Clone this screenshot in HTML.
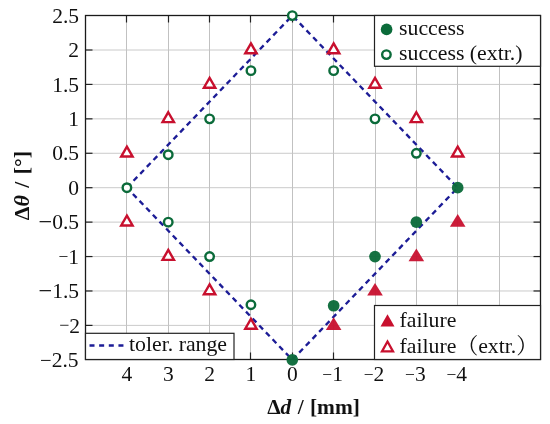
<!DOCTYPE html><html><head><meta charset="utf-8"><title>chart</title><style>html,body{margin:0;padding:0;background:#fff}svg{display:block}text{font-family:"Liberation Serif","Noto Serif CJK SC",serif;fill:#111}</style></head><body>
<svg width="550" height="424" viewBox="0 0 550 424">
<rect width="550" height="424" fill="#fff"/>
<line x1="499.5" y1="15.5" x2="499.5" y2="359.5" stroke="#bababa" stroke-width="0.9"/>
<line x1="457.5" y1="15.5" x2="457.5" y2="359.5" stroke="#bababa" stroke-width="0.9"/>
<line x1="416.5" y1="15.5" x2="416.5" y2="359.5" stroke="#bababa" stroke-width="0.9"/>
<line x1="375.5" y1="15.5" x2="375.5" y2="359.5" stroke="#bababa" stroke-width="0.9"/>
<line x1="333.5" y1="15.5" x2="333.5" y2="359.5" stroke="#bababa" stroke-width="0.9"/>
<line x1="292.5" y1="15.5" x2="292.5" y2="359.5" stroke="#bababa" stroke-width="0.9"/>
<line x1="250.5" y1="15.5" x2="250.5" y2="359.5" stroke="#bababa" stroke-width="0.9"/>
<line x1="209.5" y1="15.5" x2="209.5" y2="359.5" stroke="#bababa" stroke-width="0.9"/>
<line x1="168.5" y1="15.5" x2="168.5" y2="359.5" stroke="#bababa" stroke-width="0.9"/>
<line x1="126.5" y1="15.5" x2="126.5" y2="359.5" stroke="#bababa" stroke-width="0.9"/>
<line x1="85.5" y1="325.4" x2="540.5" y2="325.4" stroke="#c4c4c4" stroke-width="0.9"/>
<line x1="85.5" y1="290.97" x2="540.5" y2="290.97" stroke="#c4c4c4" stroke-width="0.9"/>
<line x1="85.5" y1="256.55" x2="540.5" y2="256.55" stroke="#c4c4c4" stroke-width="0.9"/>
<line x1="85.5" y1="222.12" x2="540.5" y2="222.12" stroke="#c4c4c4" stroke-width="0.9"/>
<line x1="85.5" y1="187.7" x2="540.5" y2="187.7" stroke="#c4c4c4" stroke-width="0.9"/>
<line x1="85.5" y1="153.27" x2="540.5" y2="153.27" stroke="#c4c4c4" stroke-width="0.9"/>
<line x1="85.5" y1="118.85" x2="540.5" y2="118.85" stroke="#c4c4c4" stroke-width="0.9"/>
<line x1="85.5" y1="84.42" x2="540.5" y2="84.42" stroke="#c4c4c4" stroke-width="0.9"/>
<line x1="85.5" y1="50.0" x2="540.5" y2="50.0" stroke="#c4c4c4" stroke-width="0.9"/>
<line x1="499.5" y1="15.5" x2="499.5" y2="22.5" stroke="#222" stroke-width="1.2"/>
<line x1="499.5" y1="359.5" x2="499.5" y2="352.5" stroke="#222" stroke-width="1.2"/>
<line x1="457.5" y1="15.5" x2="457.5" y2="22.5" stroke="#222" stroke-width="1.2"/>
<line x1="457.5" y1="359.5" x2="457.5" y2="352.5" stroke="#222" stroke-width="1.2"/>
<line x1="416.5" y1="15.5" x2="416.5" y2="22.5" stroke="#222" stroke-width="1.2"/>
<line x1="416.5" y1="359.5" x2="416.5" y2="352.5" stroke="#222" stroke-width="1.2"/>
<line x1="375.5" y1="15.5" x2="375.5" y2="22.5" stroke="#222" stroke-width="1.2"/>
<line x1="375.5" y1="359.5" x2="375.5" y2="352.5" stroke="#222" stroke-width="1.2"/>
<line x1="333.5" y1="15.5" x2="333.5" y2="22.5" stroke="#222" stroke-width="1.2"/>
<line x1="333.5" y1="359.5" x2="333.5" y2="352.5" stroke="#222" stroke-width="1.2"/>
<line x1="292.5" y1="15.5" x2="292.5" y2="22.5" stroke="#222" stroke-width="1.2"/>
<line x1="292.5" y1="359.5" x2="292.5" y2="352.5" stroke="#222" stroke-width="1.2"/>
<line x1="250.5" y1="15.5" x2="250.5" y2="22.5" stroke="#222" stroke-width="1.2"/>
<line x1="250.5" y1="359.5" x2="250.5" y2="352.5" stroke="#222" stroke-width="1.2"/>
<line x1="209.5" y1="15.5" x2="209.5" y2="22.5" stroke="#222" stroke-width="1.2"/>
<line x1="209.5" y1="359.5" x2="209.5" y2="352.5" stroke="#222" stroke-width="1.2"/>
<line x1="168.5" y1="15.5" x2="168.5" y2="22.5" stroke="#222" stroke-width="1.2"/>
<line x1="168.5" y1="359.5" x2="168.5" y2="352.5" stroke="#222" stroke-width="1.2"/>
<line x1="126.5" y1="15.5" x2="126.5" y2="22.5" stroke="#222" stroke-width="1.2"/>
<line x1="126.5" y1="359.5" x2="126.5" y2="352.5" stroke="#222" stroke-width="1.2"/>
<line x1="85.5" y1="325.4" x2="92.5" y2="325.4" stroke="#222" stroke-width="1.2"/>
<line x1="540.5" y1="325.4" x2="533.5" y2="325.4" stroke="#222" stroke-width="1.2"/>
<line x1="85.5" y1="290.97" x2="92.5" y2="290.97" stroke="#222" stroke-width="1.2"/>
<line x1="540.5" y1="290.97" x2="533.5" y2="290.97" stroke="#222" stroke-width="1.2"/>
<line x1="85.5" y1="256.55" x2="92.5" y2="256.55" stroke="#222" stroke-width="1.2"/>
<line x1="540.5" y1="256.55" x2="533.5" y2="256.55" stroke="#222" stroke-width="1.2"/>
<line x1="85.5" y1="222.12" x2="92.5" y2="222.12" stroke="#222" stroke-width="1.2"/>
<line x1="540.5" y1="222.12" x2="533.5" y2="222.12" stroke="#222" stroke-width="1.2"/>
<line x1="85.5" y1="187.7" x2="92.5" y2="187.7" stroke="#222" stroke-width="1.2"/>
<line x1="540.5" y1="187.7" x2="533.5" y2="187.7" stroke="#222" stroke-width="1.2"/>
<line x1="85.5" y1="153.27" x2="92.5" y2="153.27" stroke="#222" stroke-width="1.2"/>
<line x1="540.5" y1="153.27" x2="533.5" y2="153.27" stroke="#222" stroke-width="1.2"/>
<line x1="85.5" y1="118.85" x2="92.5" y2="118.85" stroke="#222" stroke-width="1.2"/>
<line x1="540.5" y1="118.85" x2="533.5" y2="118.85" stroke="#222" stroke-width="1.2"/>
<line x1="85.5" y1="84.42" x2="92.5" y2="84.42" stroke="#222" stroke-width="1.2"/>
<line x1="540.5" y1="84.42" x2="533.5" y2="84.42" stroke="#222" stroke-width="1.2"/>
<line x1="85.5" y1="50.0" x2="92.5" y2="50.0" stroke="#222" stroke-width="1.2"/>
<line x1="540.5" y1="50.0" x2="533.5" y2="50.0" stroke="#222" stroke-width="1.2"/>
<rect x="85.5" y="15.5" width="455.0" height="344.0" fill="none" stroke="#1a1a1a" stroke-width="1.3"/>
<polygon points="126.9,187.7 292.3,15.574999999999989 457.70000000000005,187.7 292.3,359.825" fill="none" stroke="#1c1c96" stroke-width="2.35" stroke-dasharray="5.4 4.2"/>
<polygon points="126.9,146.67 132.6,156.57 121.2,156.57" fill="#fff" stroke="#c8102e" stroke-width="2.4" stroke-linejoin="miter"/>
<polygon points="168.25,112.25 173.95,122.15 162.55,122.15" fill="#fff" stroke="#c8102e" stroke-width="2.4" stroke-linejoin="miter"/>
<polygon points="209.60000000000002,77.83 215.3,87.72 203.90000000000003,87.72" fill="#fff" stroke="#c8102e" stroke-width="2.4" stroke-linejoin="miter"/>
<polygon points="250.95000000000002,43.40 256.65000000000003,53.30 245.25000000000003,53.30" fill="#fff" stroke="#c8102e" stroke-width="2.4" stroke-linejoin="miter"/>
<polygon points="333.65000000000003,43.40 339.35,53.30 327.95000000000005,53.30" fill="#fff" stroke="#c8102e" stroke-width="2.4" stroke-linejoin="miter"/>
<polygon points="375.0,77.83 380.7,87.72 369.3,87.72" fill="#fff" stroke="#c8102e" stroke-width="2.4" stroke-linejoin="miter"/>
<polygon points="416.35,112.25 422.05,122.15 410.65000000000003,122.15" fill="#fff" stroke="#c8102e" stroke-width="2.4" stroke-linejoin="miter"/>
<polygon points="457.70000000000005,146.67 463.40000000000003,156.57 452.00000000000006,156.57" fill="#fff" stroke="#c8102e" stroke-width="2.4" stroke-linejoin="miter"/>
<polygon points="126.9,215.53 132.6,225.43 121.2,225.43" fill="#fff" stroke="#c8102e" stroke-width="2.4" stroke-linejoin="miter"/>
<polygon points="168.25,249.95 173.95,259.85 162.55,259.85" fill="#fff" stroke="#c8102e" stroke-width="2.4" stroke-linejoin="miter"/>
<polygon points="209.60000000000002,284.37 215.3,294.27 203.90000000000003,294.27" fill="#fff" stroke="#c8102e" stroke-width="2.4" stroke-linejoin="miter"/>
<polygon points="250.95000000000002,318.80 256.65000000000003,328.70 245.25000000000003,328.70" fill="#fff" stroke="#c8102e" stroke-width="2.4" stroke-linejoin="miter"/>
<polygon points="333.65000000000003,317.33 341.45000000000005,330.03 325.85,330.03" fill="#c8102e" fill-opacity="0.95"/>
<polygon points="375.0,282.91 382.8,295.61 367.2,295.61" fill="#c8102e" fill-opacity="0.95"/>
<polygon points="416.35,248.48 424.15000000000003,261.18 408.55,261.18" fill="#c8102e" fill-opacity="0.95"/>
<polygon points="457.70000000000005,214.06 465.50000000000006,226.76 449.90000000000003,226.76" fill="#c8102e" fill-opacity="0.95"/>
<circle cx="126.9" cy="187.7" r="4.25" fill="#fff" stroke="#0b6b3a" stroke-width="2.4"/>
<circle cx="168.25" cy="154.67499999999998" r="4.25" fill="#fff" stroke="#0b6b3a" stroke-width="2.4"/>
<circle cx="209.60000000000002" cy="118.85" r="4.25" fill="#fff" stroke="#0b6b3a" stroke-width="2.4"/>
<circle cx="250.95000000000002" cy="70.655" r="4.25" fill="#fff" stroke="#0b6b3a" stroke-width="2.4"/>
<circle cx="292.3" cy="15.574999999999989" r="4.25" fill="#fff" stroke="#0b6b3a" stroke-width="2.4"/>
<circle cx="333.65000000000003" cy="70.655" r="4.25" fill="#fff" stroke="#0b6b3a" stroke-width="2.4"/>
<circle cx="375.0" cy="118.85" r="4.25" fill="#fff" stroke="#0b6b3a" stroke-width="2.4"/>
<circle cx="416.35" cy="153.27499999999998" r="4.25" fill="#fff" stroke="#0b6b3a" stroke-width="2.4"/>
<circle cx="168.25" cy="222.125" r="4.25" fill="#fff" stroke="#0b6b3a" stroke-width="2.4"/>
<circle cx="209.60000000000002" cy="256.54999999999995" r="4.25" fill="#fff" stroke="#0b6b3a" stroke-width="2.4"/>
<circle cx="250.95000000000002" cy="304.745" r="4.25" fill="#fff" stroke="#0b6b3a" stroke-width="2.4"/>
<circle cx="457.70000000000005" cy="187.7" r="5.85" fill="#0b6b3a" fill-opacity="0.96"/>
<circle cx="416.35" cy="222.125" r="5.85" fill="#0b6b3a" fill-opacity="0.96"/>
<circle cx="375.0" cy="256.54999999999995" r="5.85" fill="#0b6b3a" fill-opacity="0.96"/>
<circle cx="333.65000000000003" cy="305.745" r="5.85" fill="#0b6b3a" fill-opacity="0.96"/>
<circle cx="292.3" cy="359.825" r="5.85" fill="#0b6b3a" fill-opacity="0.96"/>
<text x="78.5" y="367.025" font-size="21.5" text-anchor="end"><tspan font-size="20.5" dy="-0.36">−</tspan><tspan dy="0.36">2.5</tspan></text>
<text x="80.1" y="332.59999999999997" font-size="21.5" text-anchor="end"><tspan font-size="18" dy="-1.26">−</tspan><tspan dy="1.26">2</tspan></text>
<text x="79.1" y="298.17499999999995" font-size="21.5" text-anchor="end"><tspan font-size="24.5" dy="1.08">−</tspan><tspan dy="-1.08">1.5</tspan></text>
<text x="79.1" y="263.74999999999994" font-size="21.5" text-anchor="end"><tspan font-size="17.5" dy="-1.44">−</tspan><tspan dy="1.44">1</tspan></text>
<text x="79.1" y="229.325" font-size="21.5" text-anchor="end"><tspan font-size="24.5" dy="1.08">−</tspan><tspan dy="-1.08">0.5</tspan></text>
<text x="79.1" y="194.89999999999998" font-size="21.5" text-anchor="end">0</text>
<text x="79.1" y="160.47499999999997" font-size="21.5" text-anchor="end">0.5</text>
<text x="79.1" y="126.05" font-size="21.5" text-anchor="end">1</text>
<text x="79.1" y="91.625" font-size="21.5" text-anchor="end">1.5</text>
<text x="79.1" y="57.2" font-size="21.5" text-anchor="end">2</text>
<text x="79.1" y="22.774999999999988" font-size="21.5" text-anchor="end">2.5</text>
<text x="456.70000000000005" y="381.4" font-size="21.5" text-anchor="middle"><tspan font-size="17.5" dy="-1.44">−</tspan><tspan dy="1.44">4</tspan></text>
<text x="415.35" y="381.4" font-size="21.5" text-anchor="middle"><tspan font-size="17.5" dy="-1.44">−</tspan><tspan dy="1.44">3</tspan></text>
<text x="374.0" y="381.4" font-size="21.5" text-anchor="middle"><tspan font-size="17.5" dy="-1.44">−</tspan><tspan dy="1.44">2</tspan></text>
<text x="332.65000000000003" y="381.4" font-size="21.5" text-anchor="middle"><tspan font-size="17.5" dy="-1.44">−</tspan><tspan dy="1.44">1</tspan></text>
<text x="292.3" y="381.4" font-size="21.5" text-anchor="middle">0</text>
<text x="250.95000000000002" y="381.4" font-size="21.5" text-anchor="middle">1</text>
<text x="209.60000000000002" y="381.4" font-size="21.5" text-anchor="middle">2</text>
<text x="168.25" y="381.4" font-size="21.5" text-anchor="middle">3</text>
<text x="126.9" y="381.4" font-size="21.5" text-anchor="middle">4</text>
<text x="313.5" y="413.8" font-size="21.4" font-weight="bold" word-spacing="1" text-anchor="middle">Δ<tspan font-style="italic">d</tspan> / [mm]</text>
<text transform="translate(29,185.7) rotate(-90)" font-size="21.8" word-spacing="2" font-weight="bold" text-anchor="middle">Δ<tspan font-style="italic">θ</tspan> / [°]</text>
<rect x="374.5" y="15.5" width="166.0" height="50.8" fill="#fff" stroke="#222" stroke-width="1.2"/>
<circle cx="386.6" cy="29.4" r="5.8" fill="#0b6b3a"/>
<text x="399" y="34.6" font-size="21.8">success</text>
<circle cx="386.4" cy="54.6" r="4.25" fill="#fff" stroke="#0b6b3a" stroke-width="2.4"/>
<text x="399" y="60.4" font-size="21.8">success (extr.)</text>
<rect x="374.5" y="305.5" width="166.0" height="54.0" fill="#fff" stroke="#222" stroke-width="1.2"/>
<polygon points="387.5,314.2 394.5,326.4 380.5,326.4" fill="#c8102e"/>
<text x="399.5" y="326.5" font-size="21.8">failure</text>
<polygon points="387.5,341.5 393,351.4 382,351.4" fill="#fff" stroke="#c8102e" stroke-width="2.3"/>
<text x="399.5" y="353.2" font-size="21.8">failure（extr.）</text>
<rect x="85.5" y="333.3" width="148.5" height="26.19999999999999" fill="#fff" stroke="#222" stroke-width="1.2"/>
<line x1="89.5" y1="345.6" x2="123.5" y2="345.6" stroke="#1c1c96" stroke-width="2.5" stroke-dasharray="5 4.65"/>
<text x="129" y="351.3" font-size="21.8">toler. range</text>
</svg></body></html>
